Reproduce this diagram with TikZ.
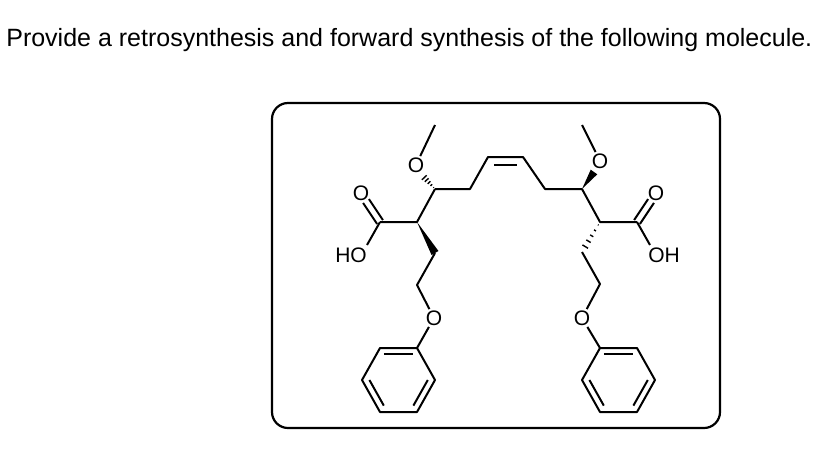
\documentclass[tikz,border=0pt]{standalone}
\usepackage{fontspec}
\setmainfont{Liberation Sans}
\usetikzlibrary{calc}
\begin{document}
\begin{tikzpicture}[x=1pt,y=-1pt,line width=2pt,line join=round,
  atom/.style={inner sep=0.5pt,font=\fontsize{21}{21}\selectfont}]
\useasboundingbox (0,0) rectangle (826,453);
\node[anchor=west,font=\fontsize{25}{26}\selectfont] (title) at (2,40) {Provide a retrosynthesis and forward synthesis of the following molecule.};
\draw[line width=2.2pt,rounded corners=16pt] (272,103) rectangle (720,428);
\coordinate (me1) at (435,125);
\node[atom] (o1) at (416,165) {O};
\coordinate (c3) at (435,189);
\coordinate (c4) at (470,189);
\coordinate (c5) at (488,157);
\coordinate (c6) at (523,157);
\coordinate (c7) at (545,189);
\coordinate (c8) at (582,189);
\node[atom] (o2) at (600,161) {O};
\coordinate (me2) at (582,125);
\coordinate (ca1) at (417,222);
\coordinate (cc1) at (380,222);
\node[atom] (od1) at (361,193) {O};
\coordinate (od1e) at (366,201);
\node[atom] (oh1) at (351,255) {HO};
\coordinate (oh1e) at (367,245);
\coordinate (ch1) at (435,253);
\coordinate (ch2) at (417,285);
\node[atom] (op1) at (434,318) {O};
\coordinate (ca2) at (600,222);
\coordinate (cc2) at (637,222);
\node[atom] (od2) at (656,193) {O};
\coordinate (od2e) at (651,201);
\node[atom] (oh2) at (664,255) {OH};
\coordinate (oh2e) at (650,245);
\coordinate (ch3) at (582,252);
\coordinate (ch4) at (600,284);
\node[atom] (op2) at (582,318) {O};
\draw (me1) -- (o1);
\draw (c3) -- (c4) -- (c5) -- (c6) -- (c7) -- (c8);
\draw ($(c5)!0.18!(c6)+(0,8)$) -- ($(c5)!0.82!(c6)+(0,8)$);
\draw (me2) -- (o2);
\draw (c3) -- (ca1) -- (cc1);
\draw (cc1) -- (oh1e);
\draw ($(cc1)!3.5pt!90:(od1e)$) -- ($(od1e)!3.5pt!-90:(cc1)$);
\draw ($(cc1)!3.5pt!-90:(od1e)$) -- ($(od1e)!3.5pt!90:(cc1)$);
\draw (ch1) -- (ch2) -- (op1);
\draw (c8) -- (ca2) -- (cc2);
\draw (cc2) -- (oh2e);
\draw ($(cc2)!3.5pt!90:(od2e)$) -- ($(od2e)!3.5pt!-90:(cc2)$);
\draw ($(cc2)!3.5pt!-90:(od2e)$) -- ($(od2e)!3.5pt!90:(cc2)$);
\draw (ch3) -- (ch4) -- (op2);
\fill (ca1) -- ($(ch1)!4pt!90:(ca1)$) -- ($(ch1)!4pt!-90:(ca1)$) -- cycle;
\coordinate (w2) at (594,172);
\fill (c8) -- ($(w2)!4pt!90:(c8)$) -- ($(w2)!4pt!-90:(c8)$) -- cycle;
\coordinate (h1) at (422,175);
\foreach \t in {0.1,0.28,0.46,0.64,0.82,1.0}
  \draw[line width=1.4pt] ($(c3)!\t!(h1)!\t*4pt!90:(h1)$) -- ($(c3)!\t!(h1)!\t*4pt!-90:(h1)$);
\foreach \t in {0.1,0.28,0.46,0.64,0.82,1.0}
  \draw[line width=1.4pt] ($(ca2)!\t!(ch3)!\t*4pt!90:(ch3)$) -- ($(ca2)!\t!(ch3)!\t*4pt!-90:(ch3)$);
\foreach \cx/\n in {399/a,619/b}{
  \coordinate (\n1) at (\cx-19,348);
  \coordinate (\n2) at (\cx+18,348);
  \coordinate (\n3) at (\cx+36,380);
  \coordinate (\n4) at (\cx+18,412);
  \coordinate (\n5) at (\cx-19,412);
  \coordinate (\n6) at (\cx-37,380);
  \draw (\n1) -- (\n2) -- (\n3) -- (\n4) -- (\n5) -- (\n6) -- cycle;
  \coordinate (\n0) at (\cx,380);
  \draw ($(\n1)!0.2!(\n0)$) -- ($(\n2)!0.2!(\n0)$);
  \draw ($(\n3)!0.2!(\n0)$) -- ($(\n4)!0.2!(\n0)$);
  \draw ($(\n5)!0.2!(\n0)$) -- ($(\n6)!0.2!(\n0)$);
}
\draw (op1) -- (a2);
\draw (op2) -- (b1);
\end{tikzpicture}
\end{document}
